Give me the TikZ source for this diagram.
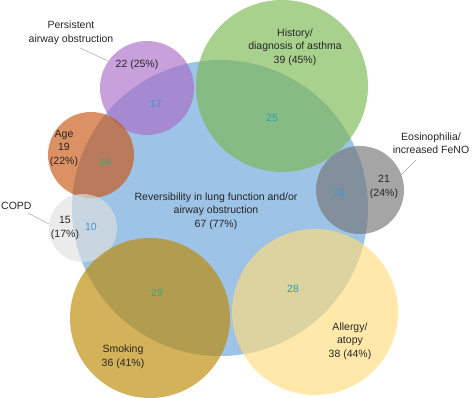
\documentclass[tikz,border=0pt]{standalone}
\usepackage{fontspec}
\setmainfont{Liberation Sans}
\usetikzlibrary{positioning}

\definecolor{revcol}{RGB}{104,163,216}
\definecolor{histcol}{RGB}{123,184,81}
\definecolor{perscol}{RGB}{170,109,201}
\definecolor{agecol}{RGB}{201,86,17}
\definecolor{copdcol}{RGB}{224,224,224}
\definecolor{smokcol}{RGB}{189,136,0}
\definecolor{allcol}{RGB}{255,220,124}
\definecolor{eoscol}{RGB}{117,117,117}
\definecolor{numblue}{RGB}{60,150,215}
\definecolor{numteal}{RGB}{40,160,175}
\definecolor{numgreen}{RGB}{60,165,120}

\tikzset{
	set/.style={fill opacity=0.65, draw=none},
	txt/.style={align=center, inner sep=0pt, font=\fontsize{10.5}{13.5}\selectfont, text=black!85},
	cnt/.style={inner sep=0pt, font=\fontsize{10.5}{13.5}\selectfont},
	leader/.style={draw=gray!70, line width=0.5pt}
}

\begin{document}
\begin{tikzpicture}[x=1pt, y=-1pt]
			\useasboundingbox (0, 0) rectangle (474, 398);
			
			% circles
			\fill[set, revcol] (220, 208) circle [radius=148];
			\fill[set, histcol] (282, 86) circle [radius=86];
			\fill[set, perscol] (147, 88) circle [radius=47];
			\fill[set, agecol] (91, 155) circle [radius=43];
			\fill[set, copdcol] (83, 228) circle [radius=34];
			\fill[set, smokcol] (150, 318) circle [radius=80];
			\fill[set, allcol] (315, 312) circle [radius=83];
			\fill[set, eoscol] (360, 190) circle [radius=44];
			
			% labels
			\node[txt] (persl) at (71, 33) {Persistent\\airway obstruction};
			\node[txt] (persn) at (137, 65) {22 (25\%)};
			\node[txt] (histl) at (295, 47) {History/\\diagnosis of asthma\\39 (45\%)};
			\node[txt] (agel) at (64, 148) {Age\\19\\(22\%)};
			\node[txt] (eosl) at (431, 143) {Eosinophilia/\\increased FeNO};
			\node[txt] (eosn) at (384, 187) {21\\(24\%)};
			\node[txt] (revl) at (216, 211) {Reversibility in lung function and/or\\airway obstruction\\67 (77\%)};
			\node[txt, anchor=west] (copdl) at (1, 206) {COPD};
			\node[txt] (copdn) at (65, 228) {15\\(17\%)};
			\node[txt] (smokl) at (123, 357) {Smoking\\36 (41\%)};
			\node[txt] (alll) at (350, 341) {Allergy/\\atopy\\38 (44\%)};
			
			% overlaps
			\node[cnt, text=numblue] (persrev) at (156, 104) {17};
			\node[cnt, text=numgreen] (agerev) at (105, 162) {14};
			\node[cnt, text=numteal] (histrev) at (272, 118) {25};
			\node[cnt, text=numblue] (eosrev) at (339, 193) {16};
			\node[cnt, text=numblue] (copdrev) at (91, 227) {10};
			\node[cnt, text=numgreen] (smokrev) at (157, 293) {29};
			\node[cnt, text=numteal] (allrev) at (293, 289) {28};
			
			% leader lines
			\coordinate (perstip) at (108, 61);
			\coordinate (copdtip) at (49, 224);
			\coordinate (eostip) at (400, 176);
			\draw[leader] (80, 48) -- (perstip);
			\draw[leader] ([shift={(-4,3)}]copdl.south east) -- (copdtip);
			\draw[leader] (416, 160) -- (eostip);
			
		\end{tikzpicture}
\end{document}
